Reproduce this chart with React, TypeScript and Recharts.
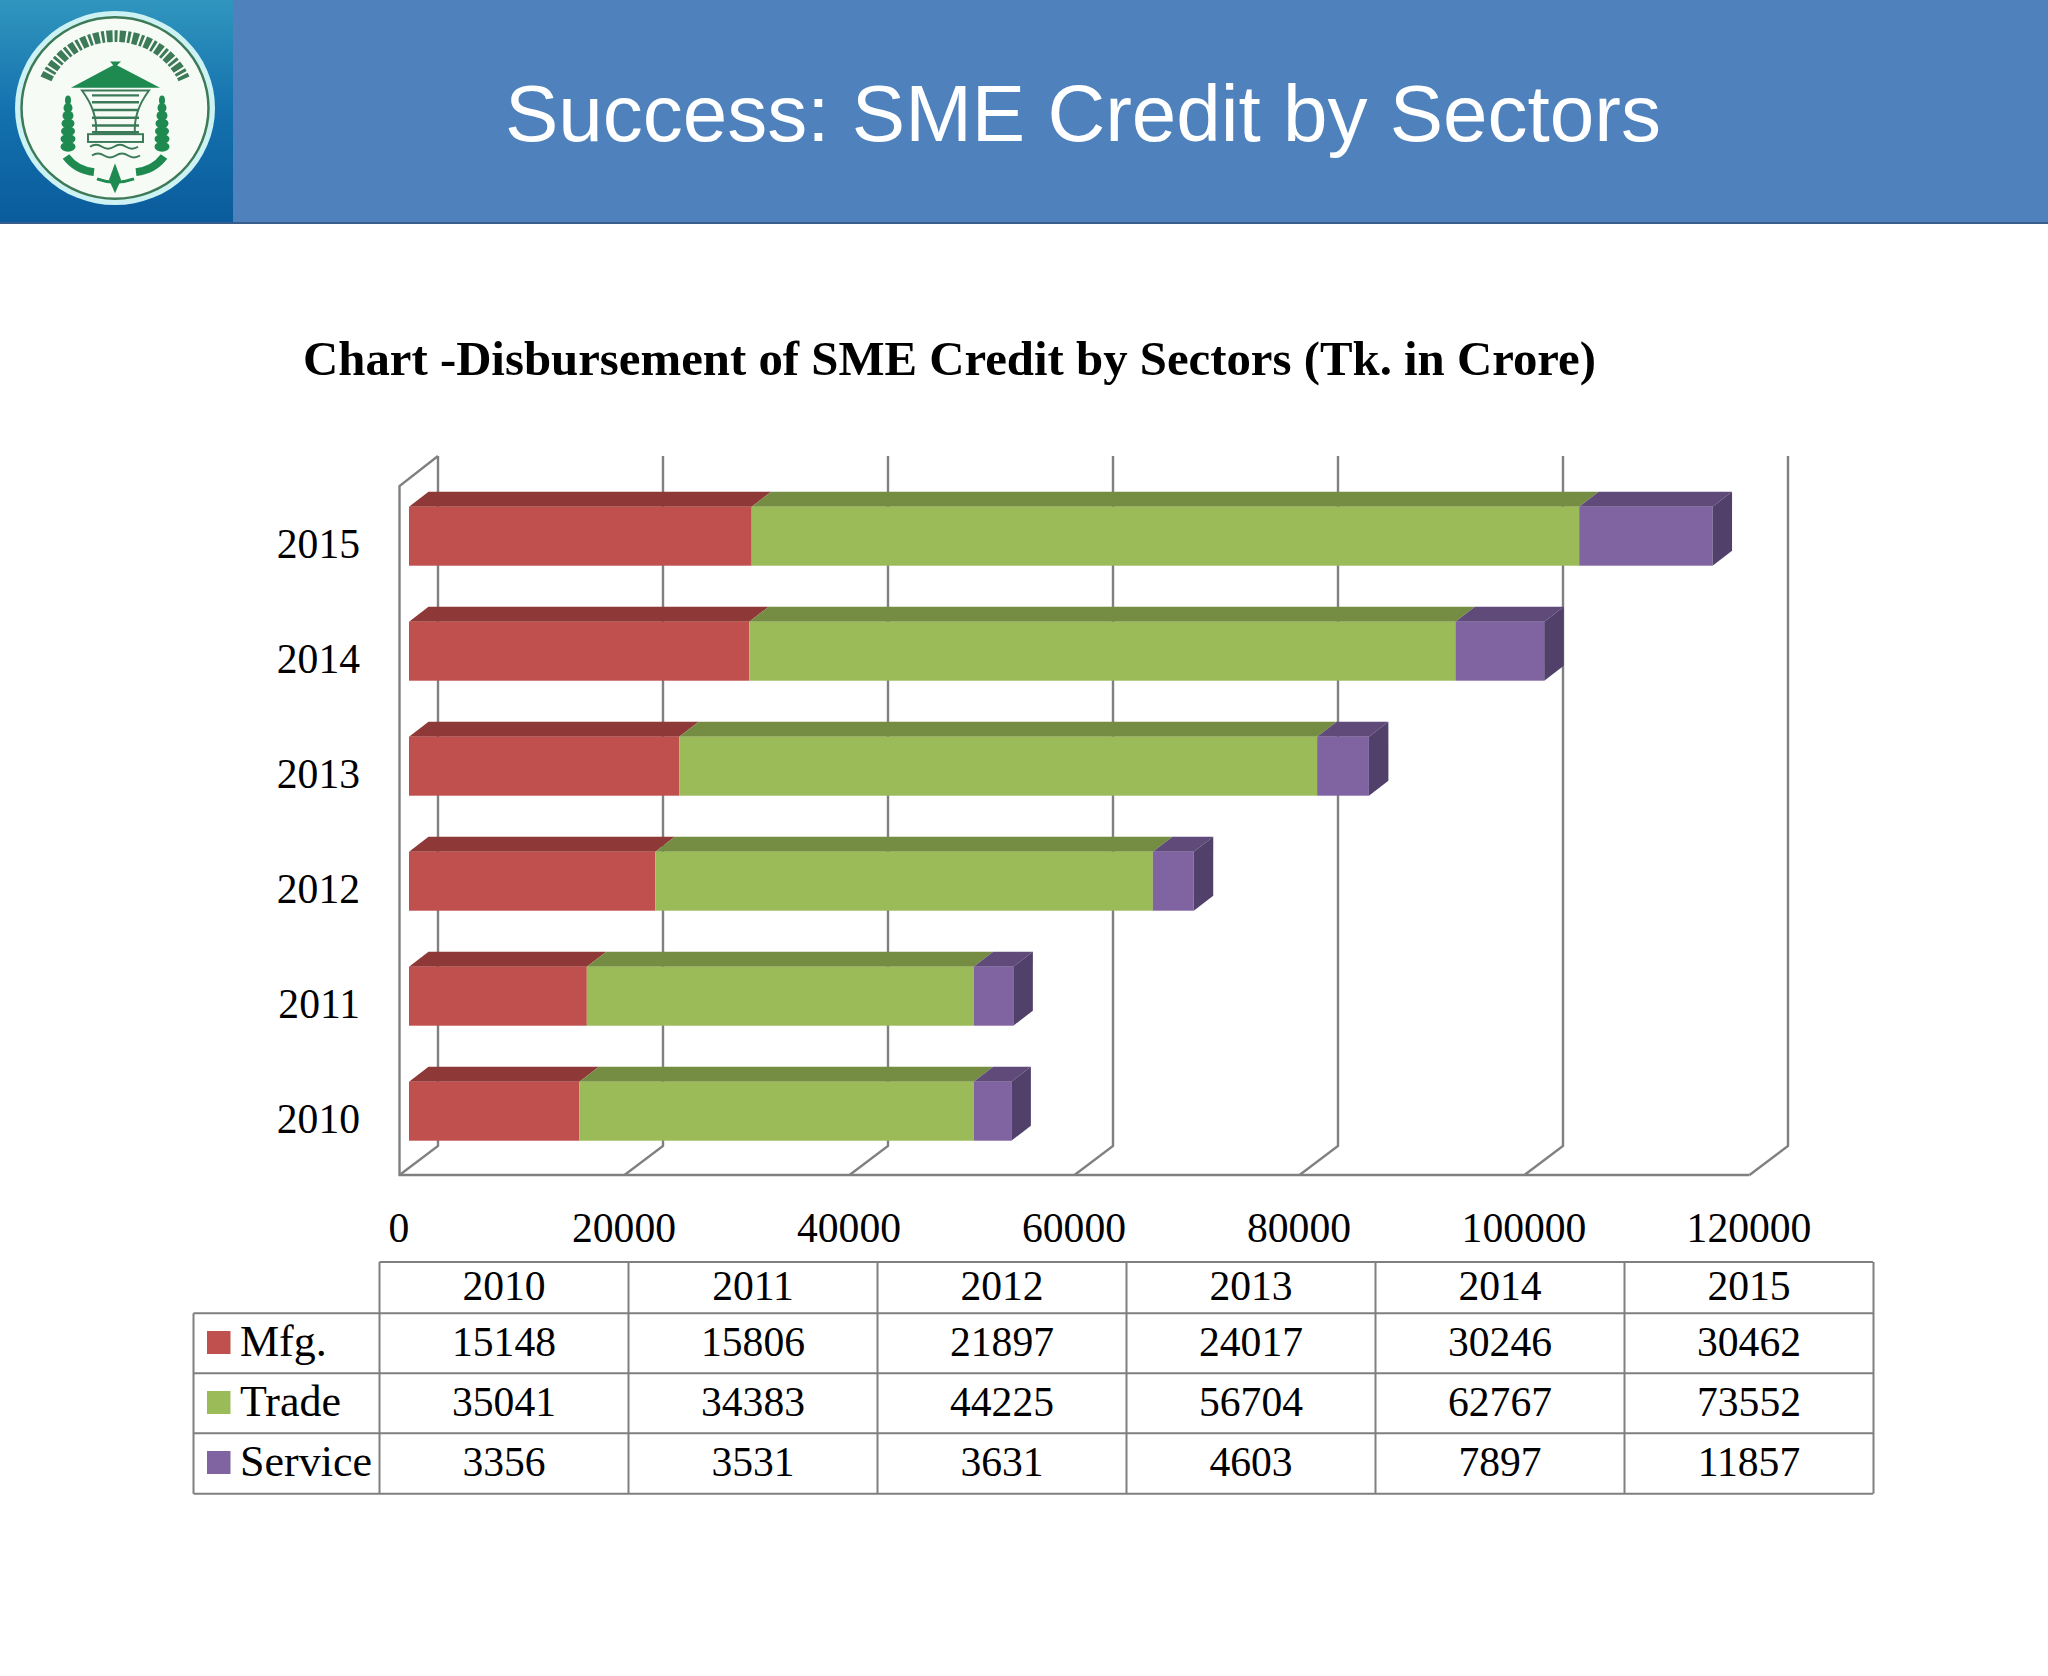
import React from "react";
import { BarChart, Bar, XAxis, YAxis, CartesianGrid } from "recharts";

const years = ["2010", "2011", "2012", "2013", "2014", "2015"];
const mfg = [15148, 15806, 21897, 24017, 30246, 30462];
const trade = [35041, 34383, 44225, 56704, 62767, 73552];
const service = [3356, 3531, 3631, 4603, 7897, 11857];
const xTicks = [0, 20000, 40000, 60000, 80000, 100000, 120000];
const seriesNames = ["Mfg.", "Trade", "Service"];
const seriesValues = [mfg, trade, service];
const fronts = ["#C0504D", "#9BBB59", "#8064A2"];
const tops = ["#8E3937", "#758D43", "#5F4A7A"];
const sides = ["#7A302E", "#64793A", "#50406A"];
const rows = years.map((y, i) => ({ year: y, mfg: mfg[i], trade: trade[i], service: service[i] }));

const SERIF = "'Liberation Serif', serif";
const GRID = "#808080";
const INK = "#000";
const DX = 19.5, DY = 15;
const TOP_BACK = 456, BOTTOM_BACK = 1146, FLOOR = 1175, WALL_TOP = 486;

const Bar3D = (idx: number, last: boolean) => (p: any) => {
  const { x, y, width, height } = p;
  const w = Math.max(width, 0);
  return (
    <g>
      <path d={`M${x},${y} L${x + DX},${y - DY} L${x + w + DX},${y - DY} L${x + w},${y} Z`} fill={tops[idx]} />
      <rect x={x} y={y} width={w} height={height} fill={fronts[idx]} />
      {last && (
        <path d={`M${x + w},${y} L${x + w + DX},${y - DY} L${x + w + DX},${y + height - DY} L${x + w},${y + height} Z`} fill={sides[idx]} />
      )}
    </g>
  );
};

const GridLine3D = (p: any) => {
  const x = p.x1;
  const bx = x + 29;
  const fx = x - 9.5;
  const first = p.index === 0;
  return (
    <g key={p.key} fill="none" stroke={GRID} strokeWidth={2.4}>
      <path d={`M${bx},${TOP_BACK} L${bx},${BOTTOM_BACK} L${fx},${FLOOR}`} />
      {first && <path d={`M${bx},${TOP_BACK} L${fx},${WALL_TOP} L${fx},${FLOOR} L${fx + 1350},${FLOOR}`} />}
    </g>
  );
};

const XTick = (p: any) => (
  <text x={p.x - 10} y={1242} textAnchor="middle" fontFamily={SERIF} fontSize={41.6} fill={INK}>
    {p.payload.value}
  </text>
);
const YTick = (p: any) => (
  <text x={360} y={p.y + 22} textAnchor="end" fontFamily={SERIF} fontSize={41.6} fill={INK}>
    {p.payload.value}
  </text>
);

const DataTable = () => {
  const colX = (i: number) => 379.5 + 249 * i;
  const rowY = [1262, 1313.3, 1373.3, 1433.3, 1493.7];
  const base = [1356, 1416, 1476];
  const line = { stroke: "#7F7F7F", strokeWidth: 2 };
  return (
    <svg width={2048} height={1676} style={{ position: "absolute", left: 0, top: 0, pointerEvents: "none" }}>
      <line x1={379.5} x2={1873} y1={rowY[0]} y2={rowY[0]} {...line} />
      {rowY.slice(1).map((y) => <line key={y} x1={193.5} x2={1873} y1={y} y2={y} {...line} />)}
      <line x1={193.5} x2={193.5} y1={rowY[1]} y2={rowY[4]} {...line} />
      {years.concat("").map((_, i) => <line key={i} x1={colX(i)} x2={colX(i)} y1={rowY[0]} y2={rowY[4]} {...line} />)}
      <g fontFamily={SERIF} fontSize={41.6} fill={INK}>
        {years.map((y, i) => (
          <text key={y} x={colX(i) + 124.5} y={1300} textAnchor="middle">{y}</text>
        ))}
        {seriesNames.map((n, r) => (
          <g key={n}>
            <rect x={207} y={base[r] - 25} width={23.5} height={23} fill={fronts[r]} />
            <text x={240} y={base[r]} fontSize={44}>{n}</text>
            {seriesValues[r].map((v, i) => (
              <text key={i} x={colX(i) + 124.5} y={base[r]} textAnchor="middle">{v}</text>
            ))}
          </g>
        ))}
      </g>
    </svg>
  );
};

const Logo = () => {
  const G = "#1E8A50", D = "#3C7A58";
  const stripes = [95, 102, 110, 118, 126, 133];
  const leaves = [
    [100, 3], [108, 4.5], [116, 5.5], [124, 6.5], [132, 7], [140, 7.5], [148, 7.5],
  ];
  return (
    <svg width={233} height={222} style={{ position: "absolute", left: 0, top: 0 }}>
      <defs>
        <linearGradient id="lg" x1="0" y1="0" x2="0" y2="1">
          <stop offset="0" stopColor="#3096BE" />
          <stop offset="0.5" stopColor="#1471AE" />
          <stop offset="1" stopColor="#0A5C9C" />
        </linearGradient>
      </defs>
      <rect width={233} height={222} fill="url(#lg)" />
      <g transform="translate(115,108) scale(1,0.97) translate(-115,-108)">
        <circle cx={115} cy={108} r={100} fill="#CDF2F4" />
        <circle cx={115} cy={108} r={93.5} fill="#F6FBF6" stroke={D} strokeWidth={2.5} />
        <path d="M46,78 A76,76 0 0 1 184,78" fill="none" stroke={D} strokeWidth={12} strokeDasharray="6 2 3 2" />
        <path d="M71,87 L115,63 L160,87 Z" fill={G} />
        <path d="M110,60 L115,66 L121,60 Z" fill={G} />
        <path d="M82,90 Q98,112 96,135 L135,135 Q133,112 149,90 Z" fill="#F6FBF6" stroke={D} strokeWidth={2} />
        {stripes.map((y) => <line key={y} x1={92} x2={139} y1={y} y2={y} stroke={D} strokeWidth={2.5} />)}
        <rect x={88} y={135} width={55} height={8} fill="#F6FBF6" stroke={D} strokeWidth={2} />
        <path d="M90,148 q6,-4 12,0 t12,0 t12,0 t12,0 M92,157 q6,-4 12,0 t12,0 t12,0 t12,0" fill="none" stroke={D} strokeWidth={2} />
        {leaves.map(([y, rx]) => (
          <g key={y}>
            <ellipse cx={68} cy={y} rx={rx} ry={5} fill={G} />
            <ellipse cx={162} cy={y} rx={rx} ry={5} fill={G} />
          </g>
        ))}
        <path d="M66,158 Q76,172 94,174 M164,158 Q154,172 136,174" fill="none" stroke={G} strokeWidth={8} />
        <path d="M115,165 L121,182 L115,196 L109,182 Z" fill={G} />
        <path d="M97,181 Q115,188 134,181" fill="none" stroke={G} strokeWidth={3} />
      </g>
    </svg>
  );
};

export default function App() {
  return (
    <div style={{ position: "absolute", left: 0, top: 0, width: 2048, height: 1676, background: "#fff", overflow: "hidden" }}>
      <div style={{ position: "absolute", left: 0, top: 0, width: 2048, height: 222, background: "#4F81BD", borderBottom: "2px solid #385D8A" }} />
      <Logo />
      <div style={{ position: "absolute", left: 505, top: 60, height: 108, lineHeight: "108px", fontFamily: "'Liberation Sans', sans-serif", fontSize: 80, color: "#fff", whiteSpace: "nowrap" }}>
        Success: SME Credit by Sectors
      </div>
      <div style={{ position: "absolute", left: 303, top: 329, lineHeight: "60px", fontFamily: SERIF, fontWeight: 700, fontSize: 48.8, color: INK, whiteSpace: "nowrap" }}>
        Chart -Disbursement of SME Credit by Sectors (Tk. in Crore)
      </div>
      <div style={{ position: "absolute", left: 0, top: 0 }}>
        <BarChart
          width={2048}
          height={1676}
          data={rows}
          layout="vertical"
          barSize={59}
          margin={{ top: 478.7, bottom: 467.3, left: 349, right: 289 }}
        >
          <CartesianGrid horizontal={false} vertical={GridLine3D as any} />
          <XAxis type="number" domain={[0, 120000]} ticks={xTicks} interval={0} height={40} axisLine={false} tickLine={false} tick={XTick as any} />
          <YAxis type="category" dataKey="year" reversed width={60} axisLine={false} tickLine={false} tick={YTick as any} />
          <Bar dataKey="mfg" stackId="s" isAnimationActive={false} shape={Bar3D(0, false) as any} />
          <Bar dataKey="trade" stackId="s" isAnimationActive={false} shape={Bar3D(1, false) as any} />
          <Bar dataKey="service" stackId="s" isAnimationActive={false} shape={Bar3D(2, true) as any} />
        </BarChart>
      </div>
      <DataTable />
    </div>
  );
}
